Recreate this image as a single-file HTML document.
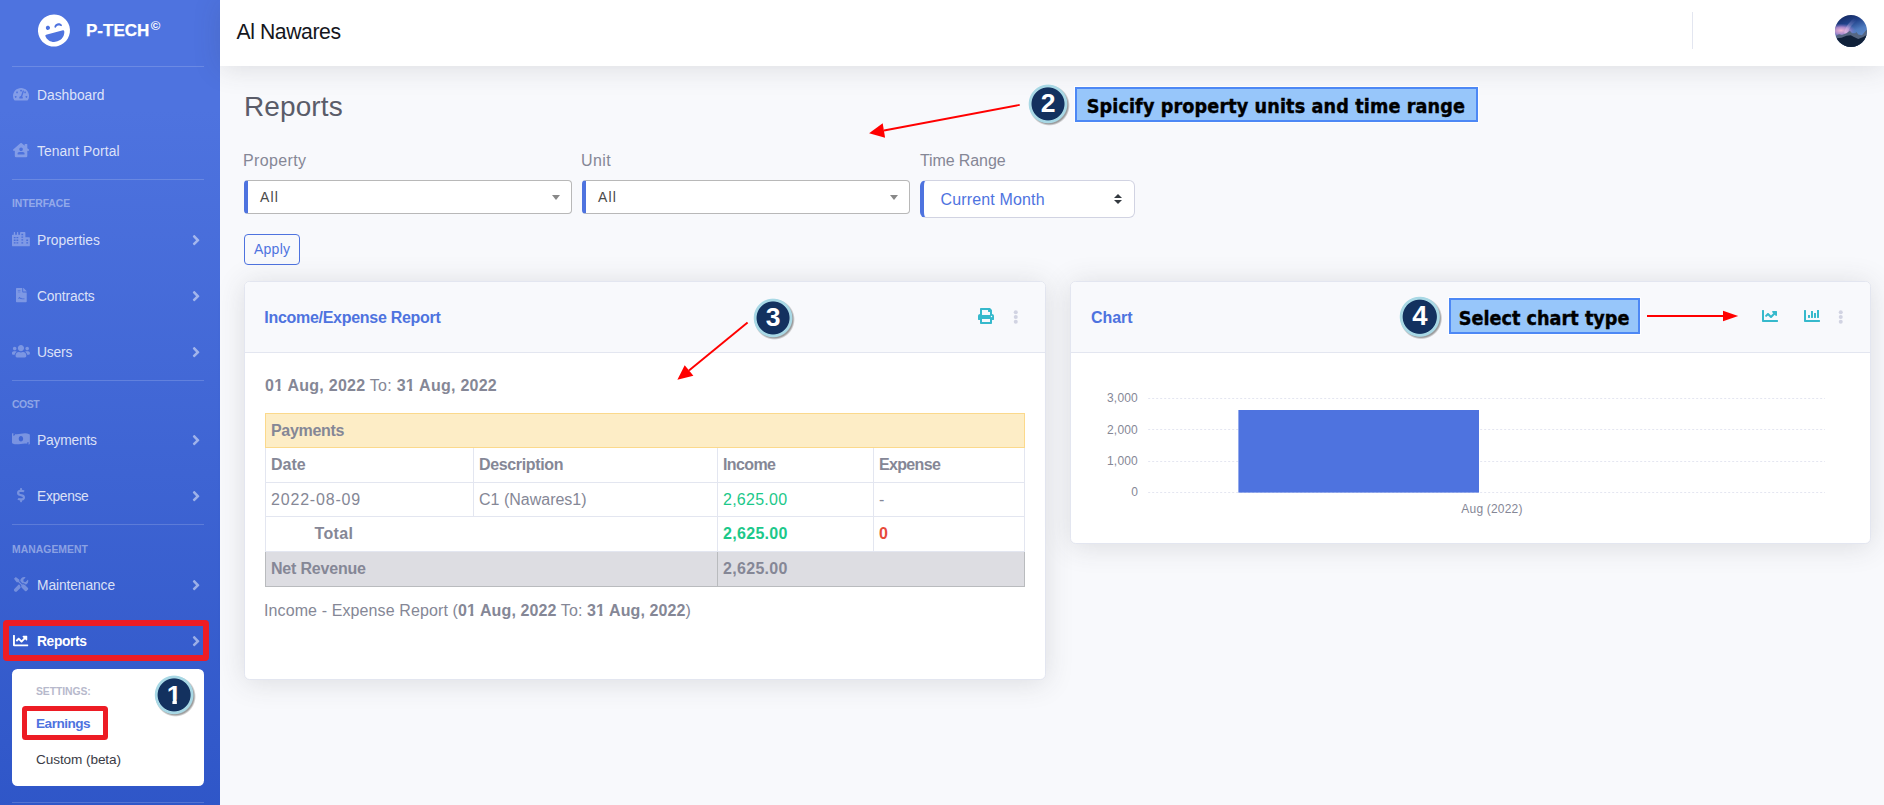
<!DOCTYPE html>
<html lang="en">
<head>
<meta charset="utf-8">
<title>Reports - P-TECH</title>
<style>
*{box-sizing:border-box;margin:0;padding:0}
html,body{width:1884px;height:805px;overflow:hidden}
body{position:relative;background:#f8f9fc;font-family:"Liberation Sans",sans-serif;font-size:16px;line-height:1.5;color:#858796}
.abs{position:absolute;white-space:nowrap}
svg{display:block;overflow:visible}

/* ---------- sidebar ---------- */
#sidebar{position:absolute;left:0;top:0;width:220px;height:1105px;background:linear-gradient(180deg,#4e73df 10%,#224abe 100%)}
.brand-text{left:86px;top:19.2px;font-size:17px;font-weight:700;color:#fff;letter-spacing:0;line-height:24px;-webkit-text-stroke:.25px #fff}
.brand-text sup{font-size:13px;position:relative;top:-6px;vertical-align:baseline;letter-spacing:0;margin-left:1.5px;-webkit-text-stroke:0}
.sdiv{position:absolute;left:12px;width:192px;height:1px;background:rgba(255,255,255,.17)}
.nav{left:37px;margin-top:1px;font-size:13.8px;line-height:20px;color:rgba(255,255,255,.82)}
.nav.act{color:#fff;font-weight:700}
.nic{position:absolute;left:12px;margin-top:-.4px;fill:rgba(255,255,255,.3)}
.chev{position:absolute;left:192px;fill:rgba(255,255,255,.5)}
.shead{left:12px;font-size:10.4px;font-weight:700;letter-spacing:-.1px;color:rgba(255,255,255,.42);line-height:14px}
#collapse{position:absolute;left:12px;top:669px;width:192px;height:117px;background:#fff;border-radius:5.5px}
.chead{left:36px;top:685px;font-size:10.4px;font-weight:700;letter-spacing:.4px;color:#b7b9cc;line-height:14px}
.citem{left:36px;margin-top:.5px;font-size:13.6px;line-height:20px;color:#3a3b45}
.citem.act{color:#4e73df;font-weight:700}

/* ---------- topbar ---------- */
#topbar{position:absolute;left:220px;top:0;width:1664px;height:66px;background:#fff;box-shadow:0 .15rem 1.75rem 0 rgba(58,59,69,.15)}
.tb-title{left:236.5px;top:16.6px;letter-spacing:-.42px;font-size:21.2px;line-height:30px;color:#15161c}
.tb-div{position:absolute;left:1692px;top:12px;width:1px;height:37px;background:#e3e6f0}
#avatar{position:absolute;left:1835px;top:15px;width:32px;height:32px;border-radius:50%;overflow:hidden}

/* ---------- page ---------- */
.h1{left:244px;top:86px;letter-spacing:.1px;font-size:28px;line-height:42px;color:#5a5c69}
.lbl{top:148.5px;font-size:16px;line-height:24px;color:#858796}
.sel2{position:absolute;top:180px;height:34px;background:#fff;border:1px solid #b8b8b8;border-left:4px solid #4e73df;border-radius:4px}
.sel2 span{position:absolute;left:12px;top:4.5px;font-size:14px;line-height:22px;color:#4a4a4a;letter-spacing:1.2px}
.sel2 i{position:absolute;right:11px;top:14px;width:0;height:0;border-left:4.5px solid transparent;border-right:4.5px solid transparent;border-top:5px solid #888}
.csel{position:absolute;left:920px;top:180px;width:215px;height:38px;background:#fff;border:1px solid #d1d3e2;border-left:4px solid #4e73df;border-radius:6px}
.csel span{position:absolute;left:16.5px;top:6.5px;letter-spacing:.15px;font-size:16px;line-height:24px;color:#4e73df}
.btn{position:absolute;left:244px;top:234px;width:56px;height:31px;border:1px solid #4e73df;border-radius:4px;color:#4e73df;font-size:14px;line-height:29px;text-align:center;letter-spacing:.25px;padding-left:.25px}

.card{position:absolute;background:#fff;border:1px solid #e3e6f0;border-radius:5.6px;box-shadow:0 .15rem 1.75rem 0 rgba(58,59,69,.15);overflow:hidden}
.card .hd{position:absolute;left:0;top:0;right:0;height:71px;background:#f8f9fc;border-bottom:1px solid #e3e6f0}
.ctitle{font-size:16px;font-weight:700;color:#4e73df;line-height:24px}

/* table */
#tbl{position:absolute;left:265px;top:413px;width:759px;border-collapse:collapse;font-size:16px;line-height:24px;color:#858796;table-layout:fixed}
#tbl td,#tbl th{border:1px solid #e3e6f0;padding:0 5px;text-align:left;font-weight:400;white-space:nowrap;height:35px;vertical-align:middle}
#tbl tr.h34 td,#tbl tr.h34 th{height:34px}
#tbl th,#tbl .b{font-weight:700}
#tbl tr.warn td{background:#fdedc6;border-color:#fbd98c}
#tbl tr.net td{background:#dddde2;border-color:#b9bbbe}
.o1{display:inline-block;line-height:24px;height:24px;vertical-align:baseline;clip-path:polygon(0 0,100% 0,100% 14.4px,6.4px 14.4px,6.4px 100%,3.3px 100%,3.3px 14.4px,0 14.4px)}
.g{color:#1cc88a}.r{color:#e74a3b}

/* annotations */
.num{position:absolute;width:46px;height:46px;color:#fff;font-weight:700;font-size:26.5px;line-height:46px;text-align:center}
.one{display:inline-block;height:46px;vertical-align:top;clip-path:polygon(0 0,100% 0,100% 27.4px,10.2px 27.4px,10.2px 100%,5.8px 100%,5.8px 27.4px,0 27.4px)}
.tag{position:absolute;overflow:hidden;background:#97c6fa;border:2px solid #4d88f5;box-shadow:0 0 0 1px rgba(255,255,255,.85);color:#000;font-family:"DejaVu Sans Condensed","DejaVu Sans","Liberation Sans",sans-serif;font-weight:700;white-space:nowrap}
.redbox{position:absolute;border:6px solid #ed1c24;border-radius:4px}
</style>
</head>
<body>

<!-- SIDEBAR -->
<div id="sidebar"></div>
<div class="sdiv" style="top:66px"></div>
<svg style="position:absolute;left:38.2px;top:13.9px;transform:rotate(-15deg)" width="32" height="33" viewBox="0 0 496 512"><path fill="#fff" d="M248 8C111 8 0 119 0 256s111 248 248 248 248-111 248-248S385 8 248 8zm20.100 198.100c4-25.200 34.200-42.100 59.900-42.100s55.900 16.900 59.900 42.100c1.700 11.100-11.400 18.300-19.800 10.800l-9.500-8.500c-14.800-13.200-46.200-13.200-61 0L288 217c-8.400 7.400-21.600.3-19.900-10.900zM168 160c17.700 0 32 14.300 32 32s-14.300 32-32 32-32-14.300-32-32 14.300-32 32-32zm230.900 146C390 377 329.400 432 256 432h-16c-73.400 0-134-55-142.900-126-1.200-9.500 6.300-18 15.900-18h270c9.600 0 17.100 8.400 15.900 18z"/></svg>
<svg class="nic" style="left:12.93px;top:87.85px" width="16.14" height="14.30" viewBox="0 0 576 512"><path fill-rule="evenodd" d="M288 32C129 32 0 161 0 320c0 53 14 102 39 145 6 10 16 15 27 15h443c11 0 22-6 27-15 25-43 39-92 39-145C576 161 447 32 288 32z M288 96a32 32 0 1 0 .1 0z M96 320a32 32 0 1 0 .1 0z M144 160a32 32 0 1 0 .1 0z M432 160a32 32 0 1 0 .1 0z M480 320a32 32 0 1 0 .1 0z M391 152c4-13-3-26-15-30-13-4-26 3-30 15l-61 184c-34 2-61 30-61 63 0 12 3 23 9 32h110c6-9 9-20 9-32 0-19-9-37-23-48z"/></svg>
<div class="abs nav" style="top:85px">Dashboard</div>
<svg class="nic" style="left:12.93px;top:143.85px" width="16.14" height="14.30" viewBox="0 0 576 512"><path fill-rule="evenodd" d="M571 236l-59-52V48a16 16 0 0 0-16-16h-64a16 16 0 0 0-16 16v52L315 10a40 40 0 0 0-54 0L5 236a16 16 0 0 0-1 23l21 24a16 16 0 0 0 23 1l16-14V464a48 48 0 0 0 48 48h352a48 48 0 0 0 48-48V270l16 14a16 16 0 0 0 23-1l21-24a16 16 0 0 0-1-23z M288 160a64 64 0 1 0 .1 0z M352 320H224a64 64 0 0 0-64 64 32 32 0 0 0 32 32h192a32 32 0 0 0 32-32 64 64 0 0 0-64-64z"/></svg>
<div class="abs nav" style="top:141px;letter-spacing:0.11px">Tenant Portal</div>
<svg class="nic" style="left:12.06px;top:232.85px" width="17.88" height="14.30" viewBox="0 0 640 512"><path fill-rule="evenodd" d="M616 192H480V24c0-13-11-24-24-24H312c-13 0-24 11-24 24v72h-64V16c0-9-7-16-16-16h-16c-9 0-16 7-16 16v80h-64V16c0-9-7-16-16-16H80c-9 0-16 7-16 16v80H24c-13 0-24 11-24 24v360c0 18 14 32 32 32h576c18 0 32-14 32-32V216c0-13-11-24-24-24z M64 176h64v48H64z M160 176h64v48h-64z M64 272h64v48H64z M160 272h64v48h-64z M64 368h64v48H64z M160 368h64v48h-64z M336 64h64v48h-64z M336 160h64v48h-64z M336 256h64v48h-64z M336 368h64v48h-64z M512 272h64v48h-64z M512 368h64v48h-64z"/></svg>
<div class="abs nav" style="top:230px">Properties</div>
<svg class="chev" style="left:192.2px;top:232.0px" width="8.2" height="16.4" viewBox="0 0 256 512"><path d="M224.300 273l-136 136c-9.400 9.400-24.600 9.400-33.900 0l-22.600-22.600c-9.400-9.400-9.400-24.600 0-33.900l96.400-96.400-96.400-96.400c-9.400-9.400-9.400-24.600 0-33.900L54.300 103c9.400-9.400 24.600-9.400 33.900 0l136 136c9.500 9.400 9.500 24.600.1 34z"/></svg>
<svg class="nic" style="left:15.64px;top:288.85px" width="10.73" height="14.30" viewBox="0 0 384 512"><path fill-rule="evenodd" d="M224 136V0H24C11 0 0 11 0 24v464c0 13 11 24 24 24h336c13 0 24-11 24-24V160H248c-13 0-24-11-24-24z M384 122v6H256V0h6c6 0 13 3 17 7l98 98c5 5 7 11 7 17z M64 72h96v16H64z M64 136h96v16H64z M80 380l40-70 30 50 24-24 40 44h90v24H200l-26-28-28 28-28-44-20 36z"/></svg>
<div class="abs nav" style="top:286px;letter-spacing:-0.16px">Contracts</div>
<svg class="chev" style="left:192.2px;top:288.0px" width="8.2" height="16.4" viewBox="0 0 256 512"><path d="M224.300 273l-136 136c-9.400 9.400-24.600 9.400-33.900 0l-22.600-22.600c-9.400-9.400-9.400-24.600 0-33.900l96.400-96.400-96.400-96.400c-9.400-9.400-9.400-24.600 0-33.900L54.300 103c9.400-9.400 24.600-9.400 33.900 0l136 136c9.500 9.400 9.500 24.600.1 34z"/></svg>
<svg class="nic" style="left:12.06px;top:344.85px" width="17.88" height="14.30" viewBox="0 0 640 512"><path fill-rule="evenodd" d="M96 224c35.300 0 64-28.700 64-64s-28.700-64-64-64-64 28.700-64 64 28.700 64 64 64zm448 0c35.300 0 64-28.700 64-64s-28.700-64-64-64-64 28.700-64 64 28.700 64 64 64zm32 32h-64c-17.600 0-33.500 7.100-45.100 18.600 40.300 22.100 68.900 62 75.100 109.400h66c17.700 0 32-14.300 32-32v-32c0-35.300-28.700-64-64-64zm-256 0c61.900 0 112-50.100 112-112S381.900 32 320 32 208 82.100 208 144s50.100 112 112 112zm76.800 32h-8.300c-20.800 10-43.900 16-68.500 16s-47.600-6-68.500-16h-8.300C179.600 288 128 339.600 128 403.200V432c0 26.500 21.500 48 48 48h288c26.500 0 48-21.500 48-48v-28.800c0-63.600-51.600-115.200-115.200-115.200zm-223.700-13.400C161.500 263.100 145.600 256 128 256H64c-35.300 0-64 28.700-64 64v32c0 17.700 14.300 32 32 32h65.900c6.300-47.400 34.900-87.300 75.200-109.400z"/></svg>
<div class="abs nav" style="top:342px;letter-spacing:-0.15px">Users</div>
<svg class="chev" style="left:192.2px;top:344.0px" width="8.2" height="16.4" viewBox="0 0 256 512"><path d="M224.300 273l-136 136c-9.400 9.400-24.600 9.400-33.900 0l-22.600-22.600c-9.400-9.400-9.400-24.600 0-33.900l96.400-96.400-96.400-96.400c-9.400-9.400-9.400-24.600 0-33.900L54.300 103c9.400-9.400 24.600-9.400 33.900 0l136 136c9.500 9.400 9.500 24.600.1 34z"/></svg>
<svg class="nic" style="left:12.06px;top:432.85px" width="17.88" height="14.30" viewBox="0 0 640 512"><path fill-rule="evenodd" d="M622 78C570 56 518 48 466 48c-97 0-195 32-292 32-53 0-106-9-158-31C7 45 0 52 0 62v318c0 14 8 26 18 30 52 22 104 30 156 30 97 0 195-32 292-32 53 0 106 9 158 31 9 4 16-3 16-13V108c0-14-8-26-18-30z M320 144c-44 0-80 43-80 96s36 96 80 96 80-43 80-96-36-96-80-96z M48 132c35 0 64-29 64-64-22-3-43-9-64-16z M592 356c-35 0-64 29-64 64 22 3 43 9 64 16z"/></svg>
<div class="abs nav" style="top:430px;letter-spacing:-0.20px">Payments</div>
<svg class="chev" style="left:192.2px;top:432.0px" width="8.2" height="16.4" viewBox="0 0 256 512"><path d="M224.300 273l-136 136c-9.400 9.400-24.600 9.400-33.900 0l-22.600-22.600c-9.400-9.400-9.400-24.600 0-33.900l96.400-96.400-96.400-96.400c-9.400-9.400-9.400-24.600 0-33.900L54.300 103c9.400-9.400 24.600-9.400 33.900 0l136 136c9.500 9.400 9.500 24.600.1 34z"/></svg>
<svg class="nic" style="left:16.97px;top:488.85px" width="8.07" height="14.30" viewBox="0 0 288 512"><path fill-rule="evenodd" d="M209.200 233.400l-108-31.600C88.700 198.200 80 186.500 80 173.500c0-16.300 13.200-29.500 29.500-29.500h66.300c12.200 0 24.200 3.700 34.200 10.500 6.100 4.100 14.300 3.100 19.500-2l34.800-34c7.100-6.900 6.100-18.400-1.800-24.500C238 74.800 207.400 64.100 176 64V16c0-8.800-7.200-16-16-16h-32c-8.800 0-16 7.200-16 16v48h-2.500C45.800 64-5.400 118.700.5 183.600c4.200 46.100 39.400 83.600 83.800 96.600l102.500 30c12.500 3.700 21.200 15.300 21.200 28.300 0 16.300-13.200 29.500-29.500 29.500h-66.300C100 368 88 364.300 78 357.500c-6.100-4.100-14.300-3.100-19.500 2l-34.800 34c-7.100 6.900-6.100 18.400 1.800 24.500 24.500 19.200 55.100 29.900 86.500 30v48c0 8.800 7.200 16 16 16h32c8.800 0 16-7.200 16-16v-48.200c46.600-.9 90.300-28.600 105.700-72.700 21.500-61.600-14.600-124.800-72.500-141.700z"/></svg>
<div class="abs nav" style="top:486px;letter-spacing:-0.32px">Expense</div>
<svg class="chev" style="left:192.2px;top:488.0px" width="8.2" height="16.4" viewBox="0 0 256 512"><path d="M224.300 273l-136 136c-9.400 9.400-24.600 9.400-33.900 0l-22.600-22.600c-9.400-9.400-9.400-24.600 0-33.900l96.400-96.400-96.400-96.400c-9.400-9.400-9.400-24.600 0-33.900L54.300 103c9.400-9.400 24.600-9.400 33.900 0l136 136c9.500 9.400 9.500 24.600.1 34z"/></svg>
<svg class="nic" style="left:13.85px;top:577.85px" width="14.30" height="14.30" viewBox="0 0 512 512"><path fill-rule="evenodd" d="M501 395L384 278c-23-23-58-28-86-13L192 158V96L64 0 0 64l96 128h62l107 107c-14 28-10 63 13 86l117 117c15 15 38 15 53 0l53-53c14-15 14-39 0-54z M331 225c28 0 55 11 75 31l19 19c16-7 31-16 44-29 37-37 50-89 38-137-2-9-13-12-20-5l-74 74-68-11-11-68 74-74c7-7 3-18-6-20-48-12-100 1-137 38-28 28-42 66-41 104l82 82c8-2 17-4 25-4z M228 315l-51-51L19 421c-25 25-25 66 0 91s66 25 91 0l128-128c-8-21-11-43-10-69z"/></svg>
<div class="abs nav" style="top:575px;letter-spacing:-0.09px">Maintenance</div>
<svg class="chev" style="left:192.2px;top:577.0px" width="8.2" height="16.4" viewBox="0 0 256 512"><path d="M224.300 273l-136 136c-9.400 9.400-24.600 9.400-33.900 0l-22.600-22.600c-9.400-9.400-9.400-24.600 0-33.900l96.400-96.400-96.400-96.400c-9.400-9.400-9.400-24.600 0-33.900L54.300 103c9.400-9.400 24.600-9.400 33.900 0l136 136c9.500 9.400 9.500 24.600.1 34z"/></svg>
<svg class="nic" style="left:13.4px;top:633.4px;fill:#fff" width="15.2" height="15.2" viewBox="0 0 512 512"><path fill-rule="evenodd" d="M496 384H64V80c0-8.840-7.160-16-16-16H16C7.160 64 0 71.160 0 80v336c0 17.670 14.330 32 32 32h464c8.840 0 16-7.160 16-16v-32c0-8.840-7.160-16-16-16zM464 96H345.940c-21.380 0-32.090 25.850-16.970 40.970l32.400 32.400L288 242.750l-73.370-73.370c-12.500-12.500-32.760-12.500-45.250 0l-68.690 68.690c-6.250 6.250-6.250 16.380 0 22.630l22.620 22.620c6.250 6.250 16.380 6.250 22.630 0L192 237.250l73.370 73.370c12.500 12.500 32.760 12.500 45.250 0l96-96 32.400 32.400c15.120 15.120 40.970 4.410 40.970-16.970V112c.010-8.840-7.150-16-15.990-16z"/></svg>
<div class="abs nav act" style="top:631px;letter-spacing:-0.38px">Reports</div>
<svg class="chev" style="left:192.2px;top:633.0px" width="8.2" height="16.4" viewBox="0 0 256 512"><path d="M224.300 273l-136 136c-9.400 9.400-24.600 9.400-33.900 0l-22.600-22.600c-9.400-9.400-9.400-24.600 0-33.900l96.400-96.400-96.400-96.400c-9.400-9.400-9.400-24.600 0-33.900L54.300 103c9.400-9.400 24.600-9.400 33.900 0l136 136c9.500 9.400 9.500 24.600.1 34z"/></svg>
<div class="sdiv" style="top:179px"></div>
<div class="sdiv" style="top:380px"></div>
<div class="sdiv" style="top:524px"></div>
<div class="sdiv" style="top:802px"></div>
<div class="abs shead" style="top:197px">INTERFACE</div>
<div class="abs shead" style="top:398px;letter-spacing:-0.40px">COST</div>
<div class="abs shead" style="top:543px;letter-spacing:0.03px">MANAGEMENT</div>
<div id="collapse"></div>
<div class="abs chead" style="letter-spacing:-0.09px">SETTINGS:</div>
<div class="abs citem act" style="top:713px;letter-spacing:-0.50px">Earnings</div>
<div class="abs citem" style="top:749px;letter-spacing:-0.09px">Custom (beta)</div>
<div class="abs brand-text">P-TECH<sup>©</sup></div>

<!-- TOPBAR -->
<div id="topbar"></div>
<div class="abs tb-title">Al Nawares</div>
<div class="tb-div"></div>
<div id="avatar"><svg width="32" height="32" viewBox="0 0 32 32">
<defs>
<linearGradient id="sky" x1="0" y1="0" x2="0.350" y2="1"><stop offset="0" stop-color="#101f52"/><stop offset=".35" stop-color="#21428a"/><stop offset=".62" stop-color="#4f7cc0"/><stop offset="1" stop-color="#6a93cf"/></linearGradient>
<radialGradient id="pink" cx="0" cy="0" r="1" gradientUnits="userSpaceOnUse" gradientTransform="translate(6 15.500) scale(15 7)"><stop offset="0" stop-color="#f3b9d6"/><stop offset=".5" stop-color="#c493d2" stop-opacity=".8"/><stop offset="1" stop-color="#7d6cc4" stop-opacity="0"/></radialGradient>
<linearGradient id="mw" x1="0" y1="1" x2="1" y2="0"><stop offset="0" stop-color="#e9c3ea" stop-opacity=".6"/><stop offset="1" stop-color="#8e8fd6" stop-opacity="0"/></linearGradient>
</defs>
<rect width="32" height="32" fill="url(#sky)"/>
<rect width="32" height="32" fill="url(#pink)"/>
<path d="M11 17 Q14 9 21 4" stroke="url(#mw)" stroke-width="3.500" fill="none" stroke-linecap="round"/>
<polygon points="0,21.500 1,20.800 4,19.300 7,19.900 11.500,18.300 14.900,15.800 17,18.300 20.200,18.300 21.400,17 23.300,19.600 27,20.200 30.700,15.800 32,14.600 32,32 0,32" fill="#566681"/>
<polygon points="0,23.800 1.500,23.300 6.500,22.700 11.500,20.800 15.800,20.200 19,22 23.300,23.900 28.300,22 32,19.800 32,32 0,32" fill="#10213a"/>
</svg></div>

<!-- PAGE -->
<div class="abs h1">Reports</div>
<div class="abs lbl" style="left:243px;letter-spacing:.36px">Property</div>
<div class="abs lbl" style="left:581px;letter-spacing:.4px">Unit</div>
<div class="abs lbl" style="left:920px;letter-spacing:-.11px">Time Range</div>
<div class="sel2" style="left:244px;width:328px"><span>All</span><i></i></div>
<div class="sel2" style="left:582px;width:328px"><span>All</span><i></i></div>
<div class="csel"><span>Current Month</span>
<svg style="position:absolute;left:190px;top:12px" width="8" height="12" viewBox="0 0 4 5"><path fill="#343a40" d="M2 0L0 2h4zm0 5L0 3h4z"/></svg></div>
<div class="btn">Apply</div>

<!-- CARD 1 -->
<div class="card" style="left:244px;top:281px;width:802px;height:399px"><div class="hd"></div></div>
<div class="abs ctitle" style="left:264.3px;top:305.5px;letter-spacing:-.29px">Income/Expense Report</div>
<svg style="position:absolute;left:978px;top:308px" width="16" height="16" viewBox="0 0 512 512"><path fill="#36b9cc" d="M448 192V77.250c0-8.490-3.370-16.620-9.370-22.630L393.370 9.370c-6-6-14.140-9.370-22.630-9.370H96C78.330 0 64 14.330 64 32v160c-35.350 0-64 28.650-64 64v112c0 8.840 7.160 16 16 16h48v96c0 17.670 14.330 32 32 32h320c17.670 0 32-14.330 32-32v-96h48c8.840 0 16-7.160 16-16V256c0-35.350-28.650-64-64-64zm-64 256H128v-96h256v96zm0-224H128V64h192v48c0 8.840 7.160 16 16 16h48v96zm48 72c-13.250 0-24-10.750-24-24 0-13.260 10.750-24 24-24s24 10.740 24 24c0 13.250-10.750 24-24 24z"/></svg>
<svg style="position:absolute;left:1012.5px;top:309.5px" width="6" height="14" viewBox="0 0 6 14"><g fill="#d1d3e2"><circle cx="2.750" cy="2.150" r="2"/><circle cx="2.750" cy="7" r="2"/><circle cx="2.750" cy="11.800" r="2"/></g></svg>
<div class="abs" style="left:265px;top:373.5px;font-size:16px;line-height:24px;letter-spacing:.26px"><b>0<span class="o1">1</span> Aug, 2022</b> To: <b>3<span class="o1">1</span> Aug, 2022</b></div>
<table id="tbl">
<colgroup><col style="width:208px"><col style="width:244px"><col style="width:156px"><col style="width:151px"></colgroup>
<tr class="warn h34"><td colspan="4" class="b" style="letter-spacing:-.32px">Payments</td></tr>
<tr><th>Date</th><th style="letter-spacing:-.35px">Description</th><th style="letter-spacing:-.6px">Income</th><th style="letter-spacing:-.67px">Expense</th></tr>
<tr class="h34"><td style="letter-spacing:.81px">2022-08-09</td><td>C1 (Nawares1)</td><td class="g" style="letter-spacing:.25px">2,625.00</td><td>-</td></tr>
<tr><td colspan="2" class="b" style="padding-left:48.5px;letter-spacing:.38px">Total</td><td class="g b" style="letter-spacing:.31px">2,625.00</td><td class="r b">0</td></tr>
<tr class="net"><td colspan="2" class="b" style="letter-spacing:-.2px">Net Revenue</td><td colspan="2" class="b" style="letter-spacing:.31px">2,625.00</td></tr>
</table>
<div class="abs" style="left:264px;top:599px;font-size:16px;line-height:24px;letter-spacing:.11px">Income - Expense Report (<b>0<span class="o1">1</span> Aug, 2022</b> To: <b>3<span class="o1">1</span> Aug, 2022</b>)</div>

<!-- CARD 2 -->
<div class="card" style="left:1070px;top:281px;width:801px;height:263px"><div class="hd"></div></div>
<div class="abs ctitle" style="left:1091px;top:305.5px;letter-spacing:-.06px">Chart</div>
<svg style="position:absolute;left:1761.500px;top:308px" width="16" height="16" viewBox="0 0 512 512"><path fill="#36b9cc" d="M496 384H64V80c0-8.840-7.160-16-16-16H16C7.160 64 0 71.160 0 80v336c0 17.670 14.330 32 32 32h464c8.840 0 16-7.160 16-16v-32c0-8.840-7.160-16-16-16zM464 96H345.940c-21.380 0-32.090 25.850-16.970 40.970l32.400 32.400L288 242.750l-73.370-73.370c-12.500-12.500-32.760-12.500-45.250 0l-68.690 68.690c-6.250 6.250-6.250 16.380 0 22.630l22.620 22.620c6.250 6.250 16.380 6.250 22.630 0L192 237.250l73.370 73.370c12.500 12.500 32.760 12.500 45.250 0l96-96 32.400 32.400c15.120 15.120 40.970 4.410 40.970-16.970V112c.010-8.840-7.150-16-15.990-16z"/></svg>
<svg style="position:absolute;left:1803.500px;top:308px" width="16" height="16" viewBox="0 0 512 512"><path fill="#36b9cc" d="M332.800 320h38.400c6.400 0 12.800-6.400 12.800-12.800V172.800c0-6.400-6.400-12.800-12.800-12.800h-38.400c-6.400 0-12.800 6.400-12.800 12.800v134.400c0 6.400 6.400 12.800 12.800 12.800zm96 0h38.400c6.400 0 12.800-6.400 12.800-12.800V76.800c0-6.400-6.400-12.800-12.800-12.800h-38.400c-6.400 0-12.800 6.400-12.800 12.800v230.400c0 6.400 6.400 12.800 12.800 12.800zm-288 0h38.400c6.400 0 12.800-6.400 12.800-12.800v-70.400c0-6.400-6.400-12.800-12.800-12.800h-38.400c-6.400 0-12.800 6.400-12.800 12.800v70.400c0 6.400 6.400 12.800 12.800 12.800zm96 0h38.400c6.400 0 12.800-6.400 12.800-12.800V108.800c0-6.400-6.400-12.800-12.800-12.800h-38.400c-6.400 0-12.800 6.400-12.800 12.800v198.400c0 6.400 6.400 12.800 12.800 12.800zM496 384H64V80c0-8.840-7.160-16-16-16H16C7.160 64 0 71.160 0 80v336c0 17.670 14.330 32 32 32h464c8.840 0 16-7.160 16-16v-32c0-8.840-7.160-16-16-16z"/></svg>
<svg style="position:absolute;left:1838px;top:309.5px" width="6" height="14" viewBox="0 0 6 14"><g fill="#d1d3e2"><circle cx="2.750" cy="2.150" r="2"/><circle cx="2.750" cy="7" r="2"/><circle cx="2.750" cy="11.800" r="2"/></g></svg>
<svg style="position:absolute;left:1071px;top:352px" width="799" height="190" viewBox="0 0 799 190" font-family="Liberation Sans, sans-serif" font-size="12" fill="#858796" letter-spacing=".2">
<g stroke="#e4e6f1" stroke-width="1" stroke-dasharray="2 2">
<line x1="77.200" x2="754" y1="46.500" y2="46.500"/><line x1="77.200" x2="754" y1="77.500" y2="77.500"/><line x1="77.200" x2="754" y1="109.500" y2="109.500"/><line x1="77.200" x2="754" y1="140.500" y2="140.500"/>
</g>
<rect x="167.400" y="58" width="240.600" height="82.600" fill="#4e73df"/>
<text x="67" y="50" text-anchor="end">3,000</text>
<text x="67" y="81.500" text-anchor="end">2,000</text>
<text x="67" y="113" text-anchor="end">1,000</text>
<text x="67" y="144" text-anchor="end">0</text>
<text x="421" y="160.500" text-anchor="middle">Aug (2022)</text>
</svg>

<!-- ANNOTATIONS -->
<div class="redbox" style="left:3px;top:620px;width:206px;height:41px"></div>
<div class="redbox" style="left:22px;top:706px;width:86px;height:34px;border-width:5.5px;border-radius:3.5px"></div>
<div class="num" style="left:151px;top:672px;background:radial-gradient(circle at 23.10px 22.90px,#13315f 0,#13315f 16.05px,#a8d8e5 16.95px,#a8d8e5 18.85px,rgba(168,216,229,0) 19.75px),radial-gradient(circle at 24.50px 24.40px,rgba(95,95,95,.6) 0,rgba(95,95,95,.6) 18.40px,rgba(85,85,85,0) 20.40px);font-size:26.5px"><span style="position:relative;left:0px;top:0px"><span class="one">1</span></span></div>
<div class="num" style="left:1025px;top:81px;background:radial-gradient(circle at 23.00px 22.90px,#13315f 0,#13315f 16.05px,#a8d8e5 16.95px,#a8d8e5 18.85px,rgba(168,216,229,0) 19.75px),radial-gradient(circle at 24.40px 24.40px,rgba(95,95,95,.6) 0,rgba(95,95,95,.6) 18.40px,rgba(85,85,85,0) 20.40px);font-size:26.5px"><span style="position:relative;left:0px;top:-1px">2</span></div>
<div class="num" style="left:750px;top:295px;background:radial-gradient(circle at 23.05px 22.95px,#13315f 0,#13315f 16.05px,#a8d8e5 16.95px,#a8d8e5 18.85px,rgba(168,216,229,0) 19.75px),radial-gradient(circle at 24.45px 24.45px,rgba(95,95,95,.6) 0,rgba(95,95,95,.6) 18.40px,rgba(85,85,85,0) 20.40px);font-size:26.5px"><span style="position:relative;left:0px;top:-1px">3</span></div>
<div class="num" style="left:1397px;top:294px;background:radial-gradient(circle at 22.75px 22.75px,#13315f 0,#13315f 16.65px,#a8d8e5 17.55px,#a8d8e5 19.55px,rgba(168,216,229,0) 20.45px),radial-gradient(circle at 24.15px 24.25px,rgba(95,95,95,.6) 0,rgba(95,95,95,.6) 19.10px,rgba(85,85,85,0) 21.10px);font-size:27.5px"><span style="position:relative;left:0px;top:-1px">4</span></div>
<div class="tag" style="left:1075px;top:87px;width:403px;height:35px;font-size:19.6px;letter-spacing:.12px;line-height:36px;padding-left:9.7px;-webkit-text-stroke:.4px #000">Spicify property units and time range</div>
<div class="tag" style="left:1449px;top:298px;width:191px;height:36px;font-size:19.6px;letter-spacing:.03px;line-height:37px;padding-left:7.7px;-webkit-text-stroke:.4px #000">Select chart type</div>
<svg style="position:absolute;left:0;top:0;pointer-events:none" width="1884" height="805" viewBox="0 0 1884 805">
<g stroke="#ff0000" fill="#ff0000" stroke-linecap="butt">
<line x1="1019.700" y1="104.900" x2="884" y2="130.500" stroke-width="1.900"/><polygon stroke="none" points="869.100,133.200 882.700,123.300 885.100,137.800"/>
<line x1="747.600" y1="322.500" x2="689" y2="370.500" stroke-width="1.900"/><polygon stroke="none" points="677.400,379.800 684.700,365.300 693.400,375.800"/>
<line x1="1647" y1="316" x2="1724" y2="316" stroke-width="2.200"/><polygon stroke="none" points="1738.200,316 1723,310.700 1723,321.300"/>
</g></svg>


</body>
</html>
